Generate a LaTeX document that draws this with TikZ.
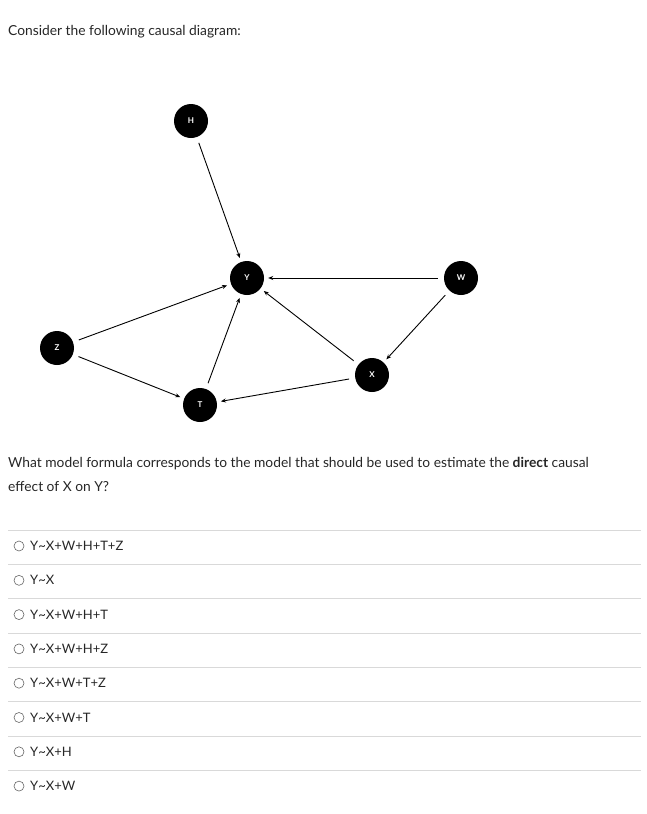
\documentclass[tikz,border=0pt]{standalone}
\usepackage{fontspec}
\setmainfont{Lato}
\usetikzlibrary{arrows.meta}
\begin{document}
\begin{tikzpicture}[x=1pt,y=-1pt,
  var/.style={circle,fill=black,minimum size=34pt,inner sep=0pt,text=white,font=\fontsize{8}{9}\selectfont\bfseries},
  edge/.style={-{Stealth[length=5pt,width=4pt]},line width=0.9pt,shorten <=6pt,shorten >=4pt},
  txt/.style={anchor=west,inner sep=0pt,font=\fontsize{13.8}{16}\selectfont,text=black!85},
  otxt/.style={anchor=west,inner sep=0pt,font=\fontsize{13}{15}\selectfont,text=black!85},
  sep/.style={draw=black!15,line width=0.6pt},
  radio/.style={circle,draw=black!60,line width=0.6pt,minimum size=10pt,inner sep=0pt}]
\useasboundingbox (0,0) rectangle (646,814);
\node[txt] (t1) at (8,32) {Consider the following causal diagram:};
\node[var] (H) at (191,121) {H};
\node[var] (Y) at (247,278) {Y};
\node[var] (W) at (461,278) {W};
\node[var] (Z) at (57,348) {Z};
\node[var] (X) at (372,375) {X};
\node[var] (T) at (200,405) {T};
\draw[edge] (H) -- (Y);
\draw[edge] (Z) -- (Y);
\draw[edge] (Z) -- (T);
\draw[edge] (T) -- (Y);
\draw[edge] (X) -- (Y);
\draw[edge] (W) -- (Y);
\draw[edge] (W) -- (X);
\draw[edge] (X) -- (T);
\node[txt] (q1) at (8,464) {What model formula corresponds to the model that should be used to estimate the \textbf{direct} causal};
\node[txt] (q2) at (8,486) {effect of X on Y?};
\foreach \i/\lab in {0/Y\textasciitilde X+W+H+T+Z,1/Y\textasciitilde X,2/Y\textasciitilde X+W+H+T,3/Y\textasciitilde X+W+H+Z,4/Y\textasciitilde X+W+T+Z,5/Y\textasciitilde X+W+T,6/Y\textasciitilde X+H,7/Y\textasciitilde X+W}{
  \coordinate (s\i a) at (8,{530+34.3*\i});
  \coordinate (s\i b) at (641,{530+34.3*\i});
  \draw[sep] (s\i a) -- (s\i b);
  \node[radio] (r\i) at (19,{546+34.3*\i}) {};
  \node[otxt] (o\i) at (30,{546+34.3*\i}) {\lab};
}
\end{tikzpicture}
\end{document}
